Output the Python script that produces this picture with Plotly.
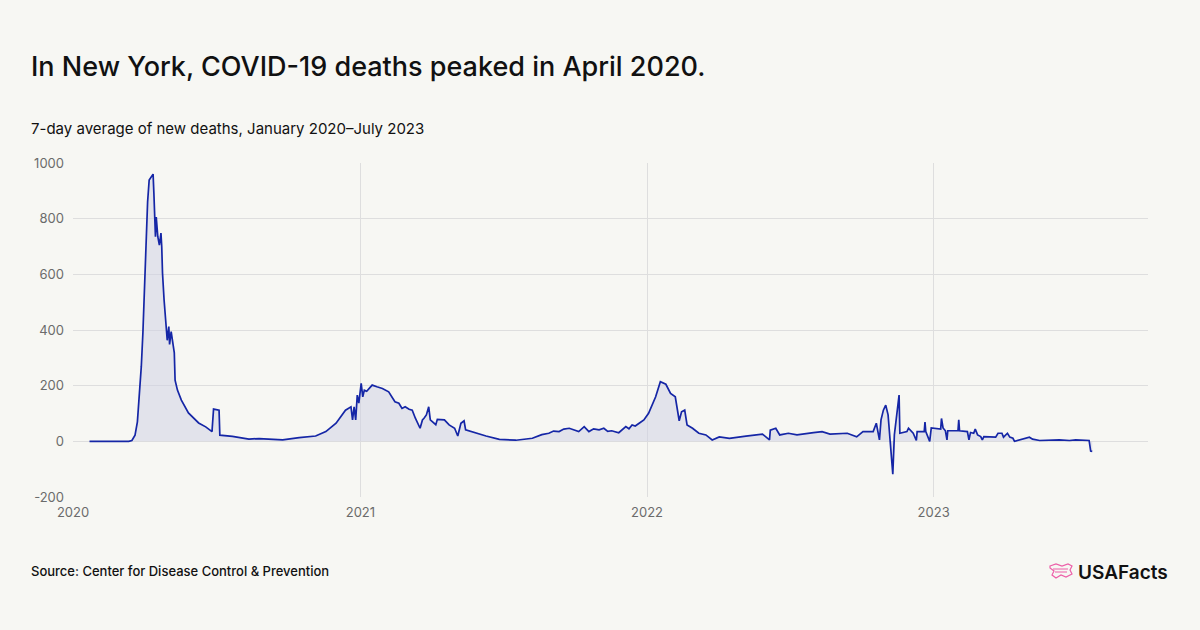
import plotly.graph_objects as go

dates = [
    "2020-01-22", "2020-03-12", "2020-03-16", "2020-03-20", "2020-03-23", "2020-03-26",
    "2020-03-28", "2020-03-30", "2020-04-01", "2020-04-03", "2020-04-05", "2020-04-07",
    "2020-04-10", "2020-04-12", "2020-04-13", "2020-04-15", "2020-04-16", "2020-04-18",
    "2020-04-20", "2020-04-22", "2020-04-23", "2020-04-24", "2020-04-26", "2020-04-29",
    "2020-04-30", "2020-05-02", "2020-05-03", "2020-05-05", "2020-05-08", "2020-05-09",
    "2020-05-10", "2020-05-13", "2020-05-18", "2020-05-27", "2020-06-09", "2020-06-18",
    "2020-06-26", "2020-06-28", "2020-07-05", "2020-07-06", "2020-07-22", "2020-08-12",
    "2020-08-25", "2020-09-24", "2020-10-15", "2020-11-05", "2020-11-18", "2020-12-01",
    "2020-12-13", "2020-12-20", "2020-12-22", "2020-12-24", "2020-12-26", "2020-12-28",
    "2020-12-30", "2021-01-02", "2021-01-04", "2021-01-06", "2021-01-09", "2021-01-16",
    "2021-01-22", "2021-01-29", "2021-02-06", "2021-02-14", "2021-02-19", "2021-02-23",
    "2021-02-27", "2021-03-04", "2021-03-08", "2021-03-12", "2021-03-18", "2021-03-21",
    "2021-03-23", "2021-03-26", "2021-03-29", "2021-03-31", "2021-04-07", "2021-04-09",
    "2021-04-18", "2021-04-24", "2021-05-01", "2021-05-05", "2021-05-09", "2021-05-13",
    "2021-05-15", "2021-05-28", "2021-06-10", "2021-06-27", "2021-07-18", "2021-08-08",
    "2021-08-20", "2021-08-29", "2021-09-04", "2021-09-11", "2021-09-17", "2021-09-24",
    "2021-10-01", "2021-10-06", "2021-10-13", "2021-10-19", "2021-10-25", "2021-11-01",
    "2021-11-07", "2021-11-12", "2021-11-17", "2021-11-26", "2021-12-05", "2021-12-09",
    "2021-12-13", "2021-12-17", "2021-12-22", "2021-12-28", "2022-01-03", "2022-01-12",
    "2022-01-18", "2022-01-25", "2022-01-31", "2022-02-06", "2022-02-11", "2022-02-14",
    "2022-02-18", "2022-02-21", "2022-02-28", "2022-03-08", "2022-03-17", "2022-03-25",
    "2022-04-03", "2022-04-16", "2022-05-07", "2022-05-28", "2022-06-06", "2022-06-07",
    "2022-06-14", "2022-06-19", "2022-06-30", "2022-07-11", "2022-08-01", "2022-08-12",
    "2022-08-22", "2022-09-13", "2022-09-25", "2022-10-03", "2022-10-16", "2022-10-20",
    "2022-10-24", "2022-10-26", "2022-10-29", "2022-11-01", "2022-11-04", "2022-11-06",
    "2022-11-10", "2022-11-12", "2022-11-18", "2022-11-19", "2022-11-28", "2022-11-30",
    "2022-12-06", "2022-12-10", "2022-12-11", "2022-12-20", "2022-12-21", "2022-12-22",
    "2022-12-27", "2022-12-29", "2023-01-10", "2023-01-11", "2023-01-13", "2023-01-16",
    "2023-01-18", "2023-01-19", "2023-02-01", "2023-02-02", "2023-02-03", "2023-02-13",
    "2023-02-15", "2023-02-17", "2023-02-21", "2023-02-23", "2023-02-26", "2023-03-02",
    "2023-03-04", "2023-03-06", "2023-03-21", "2023-03-24", "2023-03-29", "2023-03-31",
    "2023-04-05", "2023-04-08", "2023-04-12", "2023-04-14", "2023-04-20", "2023-05-03",
    "2023-05-07", "2023-05-16", "2023-06-10", "2023-06-23", "2023-07-01", "2023-07-18",
    "2023-07-20", "2023-07-22",
]

deaths = [
    0, 0, 3, 22, 70, 173,
    270, 389, 540, 712, 860, 939,
    950, 960, 892, 735, 806, 735,
    705, 748, 700, 604, 508, 411,
    363, 412, 348, 394, 328, 318,
    220, 184, 148, 102, 66, 52,
    35, 116, 112, 22, 18, 8,
    10, 5, 13, 19, 35, 65,
    112, 124, 77, 124, 77, 166,
    137, 208, 160, 184, 180, 202,
    196, 190, 178, 142, 137, 118,
    124, 115, 112, 83, 47, 77,
    83, 95, 124, 77, 60, 79,
    77, 59, 47, 19, 65, 74,
    41, 29, 19, 7, 4, 11,
    24, 29, 37, 35, 44, 47,
    40, 35, 53, 35, 45, 41,
    47, 36, 38, 31, 53, 45,
    59, 55, 65, 77, 101, 160,
    214, 205, 172, 160, 74, 106,
    112, 59, 47, 29, 23, 5,
    16, 11, 19, 26, 5, 40,
    47, 23, 29, 23, 31, 35,
    26, 29, 16, 35, 35, 65,
    5, 77, 112, 130, 95, 23,
    -118, 23, 166, 29, 35, 47,
    29, 3, 35, 35, 69, 35,
    0, 48, 44, 82, 48, 38,
    5, 38, 38, 77, 38, 35,
    5, 32, 29, 44, 23, 17,
    5, 17, 15, 29, 29, 15,
    29, 15, 11, 0, 5, 15,
    8, 3, 5, 3, 5, 3,
    -35, -36,
]

y_ticks = [-200, 0, 200, 400, 600, 800, 1000]
y_tick_labels = ["-200", "0", "200", "400", "600", "800", "1000"]
x_ticks = ["2020-01-01", "2021-01-01", "2022-01-01", "2023-01-01"]
x_tick_labels = ["2020", "2021", "2022", "2023"]

BG = "#f7f7f3"
FONT = "Inter"

PL, PT, PW, PH = 73, 163, 1075, 334
def px(xp):
    return (xp - PL) / PW
def py(yp):
    return (PT + PH - yp) / PH

fig = go.Figure()
fig.add_trace(go.Scatter(
    x=dates, y=deaths, mode="lines",
    line=dict(color="#1526a6", width=1.7),
    fill="tozeroy", fillcolor="rgba(205,207,228,0.5)",
    hoverinfo="skip",
))

fig.update_layout(
    width=1200, height=630,
    paper_bgcolor=BG, plot_bgcolor=BG,
    margin=dict(l=PL, r=1200 - PL - PW, t=PT, b=630 - PT - PH),
    showlegend=False,
    font=dict(family=FONT, color="#111111"),
    xaxis=dict(
        range=["2020-01-01", "2023-10-01"],
        tickvals=x_ticks, ticktext=x_tick_labels,
        showgrid=True, gridcolor="#dedede", gridwidth=1,
        zeroline=False, showline=False, ticks="",
        tickfont=dict(family=FONT, size=13, color="#6b6b6b"),
        ticklabelstandoff=6,
    ),
    yaxis=dict(
        range=[-200, 1000],
        tickvals=y_ticks, ticktext=y_tick_labels,
        showgrid=True, gridcolor="#dedede", gridwidth=1,
        zeroline=False, showline=False, ticks="",
        tickfont=dict(family=FONT, size=13, color="#6b6b6b"),
        ticklabelstandoff=8,
    ),
    annotations=[
        dict(text="In New York, COVID-19 deaths peaked in April 2020.",
             xref="paper", yref="paper", x=px(29), y=py(67),
             xanchor="left", yanchor="middle", showarrow=False,
             font=dict(family=FONT, size=27, color="#111111", weight=500)),
        dict(text="7-day average of new deaths, January 2020\u2013July 2023",
             xref="paper", yref="paper", x=px(29), y=py(128), showarrow=False,
             xanchor="left", yanchor="middle",
             font=dict(family=FONT, size=15, color="#111111")),
        dict(text="Source: Center for Disease Control & Prevention",
             xref="paper", yref="paper", x=px(29), y=py(571), showarrow=False,
             xanchor="left", yanchor="middle",
             font=dict(family=FONT, size=13, color="#111111", weight=500)),
        dict(text="USAFacts",
             xref="paper", yref="paper", x=px(1170), y=py(572), showarrow=False,
             xanchor="right", yanchor="middle",
             font=dict(family=FONT, size=19, color="#111111", weight=600)),
    ],
)

def logo_pt(xp, yp):
    return f"{px(xp):.5f},{py(yp):.5f}"

pts = [(1050, 566), (1056, 564), (1062, 566), (1068, 564), (1072, 566),
       (1070, 570), (1072, 574), (1066, 577), (1061, 575), (1056, 578),
       (1052, 575), (1054, 571), (1050, 568)]
path = "M " + " L ".join(logo_pt(a, b) for a, b in pts) + " Z"
fig.add_shape(type="path", xref="paper", yref="paper", path=path,
              line=dict(color="#ec5fa8", width=1.2), fillcolor="rgba(0,0,0,0)")
for (a1, b1, a2, b2) in [(1053, 569, 1068, 569), (1055, 572, 1067, 572)]:
    fig.add_shape(type="line", xref="paper", yref="paper",
                  x0=px(a1), y0=py(b1), x1=px(a2), y1=py(b2),
                  line=dict(color="#ec5fa8", width=1))

fig.write_html("out.html")
